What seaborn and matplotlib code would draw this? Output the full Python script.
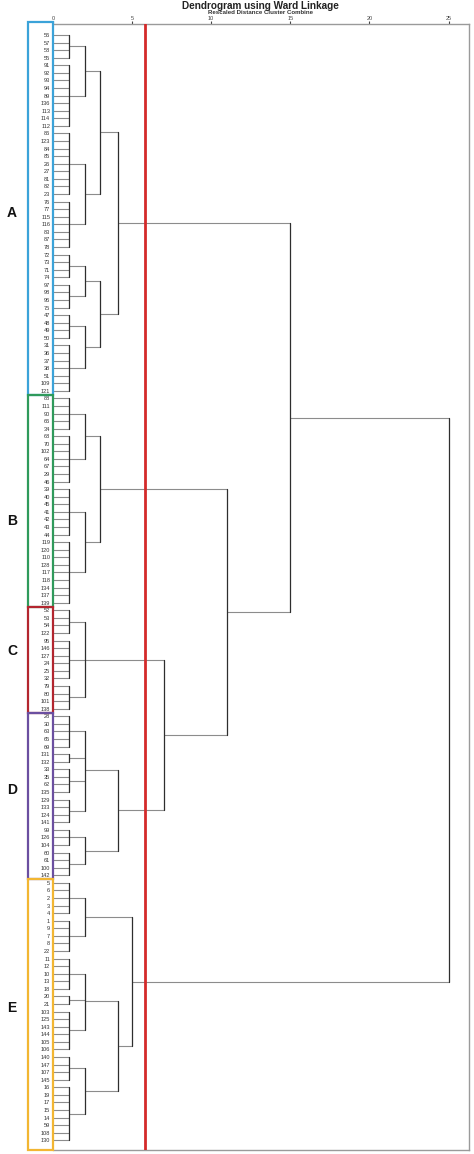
import numpy as np
import pandas as pd
import matplotlib
matplotlib.use("Agg")
import matplotlib.pyplot as plt
import seaborn as sns
from matplotlib.patches import Rectangle

# ---------------- data ----------------
# base groups of cases (each group fused at the base distance), top-to-bottom order
cluster_A = [[56, 57, 58, 55], [91, 92, 93, 94, 89, 136, 113, 114, 112],
             [86, 123, 84, 85, 26, 27, 81, 82, 23], [76, 77, 115, 116, 83, 87, 78],
             [72, 73, 71, 74], [97, 98, 96, 75], [47, 48, 49, 50],
             [31, 36, 37, 38, 51, 109, 121]]
cluster_B = [[88, 111, 90, 66, 34], [68, 70, 102, 64, 67, 29, 46],
             [39, 40, 45, 41, 42, 43, 44], [119, 120, 110, 128, 117, 118, 134, 137, 139]]
cluster_C = [[52, 53, 54, 122], [95, 146, 127, 24, 25, 32], [79, 80, 101, 138]]
cluster_D = [[28, 30, 63, 65, 69], [131, 132], [33, 35, 62, 135], [129, 133, 124, 141],
             [99, 126, 104], [60, 61, 100, 142]]
cluster_E = [[5, 6, 2, 3, 4], [1, 9, 7, 8, 22], [11, 12, 10, 13, 18], [20, 21],
             [103, 125, 143, 144, 105, 106], [140, 147, 107, 145],
             [16, 19, 17, 15, 14, 59, 108, 130]]
cluster_names = ["A", "B", "C", "D", "E"]
base_height = 1.0

merge_names = ["A01", "A23", "A0123", "A45", "A67", "A4567", "A",
               "B01", "B23", "B",
               "C",
               "D0123", "D45", "D",
               "CD", "BCD", "ABCD",
               "E01", "E234", "E56", "E2to6", "E",
               "root"]
merge_heights = [2.0, 2.0, 3.0, 2.0, 2.0, 3.0, 4.1,
                 2.0, 2.0, 3.0,
                 2.0,
                 2.0, 2.0, 4.1,
                 7.0, 11.0, 15.0,
                 2.0, 2.0, 2.0, 4.1, 5.0,
                 25.0]
merge_children = [["A0", "A1"], ["A2", "A3"], ["A01", "A23"], ["A4", "A5"], ["A6", "A7"],
                  ["A45", "A67"], ["A0123", "A4567"],
                  ["B0", "B1"], ["B2", "B3"], ["B01", "B23"],
                  ["C0", "C1", "C2"],
                  ["D0", "D1", "D2", "D3"], ["D4", "D5"], ["D0123", "D45"],
                  ["C", "D"], ["B", "CD"], ["A", "BCD"],
                  ["E0", "E1"], ["E2", "E3", "E4"], ["E5", "E6"], ["E234", "E56"],
                  ["E01", "E2to6"], ["ABCD", "E"]]

cut_distance = 5.8
x_ticks = [0, 5, 10, 15, 20, 25]
box_colors = ["#3ba3d9", "#2f9a5b", "#b3262f", "#6b4fa0", "#f2b632"]

# ---------------- build segments ----------------
clusters = [cluster_A, cluster_B, cluster_C, cluster_D, cluster_E]
leaf_labels = []
node_pos = {}
node_h = {}
segs = []   # (seg_id, kind, x, y)
sid = 0
row = 0
cluster_bounds = []
for cname, groups in zip(cluster_names, clusters):
    start = row
    for gi, g in enumerate(groups):
        rows = list(range(row, row + len(g)))
        leaf_labels.extend(str(v) for v in g)
        for r in rows:
            segs.append((sid, "h", 0.0, r)); segs.append((sid, "h", base_height, r)); sid += 1
        if len(rows) > 1:
            segs.append((sid, "v", base_height, rows[0])); segs.append((sid, "v", base_height, rows[-1])); sid += 1
        node_pos[f"{cname}{gi}"] = float(np.mean(rows))
        node_h[f"{cname}{gi}"] = base_height
        row += len(g)
    cluster_bounds.append((start - 0.5, row - 0.5))

for name, h, ch in zip(merge_names, merge_heights, merge_children):
    ys = [node_pos[c] for c in ch]
    for c in ch:
        segs.append((sid, "h", node_h[c], node_pos[c])); segs.append((sid, "h", h, node_pos[c])); sid += 1
    segs.append((sid, "v", h, min(ys))); segs.append((sid, "v", h, max(ys))); sid += 1
    node_pos[name] = float(np.mean(ys))
    node_h[name] = h

df = pd.DataFrame(segs, columns=["seg", "kind", "x", "y"])
n_leaves = len(leaf_labels)

# ---------------- plot ----------------
sns.set_theme(style="white")
plt.rcParams["font.family"] = ["Liberation Sans", "DejaVu Sans"]

W, H = 474, 1154
fig = plt.figure(figsize=(W / 100, H / 100), dpi=100)
ax_l, ax_r, ax_t, ax_b = 53, 469, 24, 1150
ax = fig.add_axes([ax_l / W, 1 - ax_b / H, (ax_r - ax_l) / W, (ax_b - ax_t) / H])

px_per_unit = 15.82
row_px = 7.57
first_row_px = 35

sns.lineplot(data=df[df.kind == "h"], x="x", y="y", units="seg", estimator=None,
             sort=False, color="#8c8c8c", lw=0.8, ax=ax, legend=False)
sns.lineplot(data=df[df.kind == "v"], x="x", y="y", units="seg", estimator=None,
             sort=False, color="#2e2e2e", lw=0.9, ax=ax, legend=False, orient="y")

ax.axvline(cut_distance, color="#d42a2a", lw=2.0, zorder=5)

ax.set_xlim(0, (ax_r - ax_l) / px_per_unit)
ax.set_ylim((ax_b - first_row_px) / row_px, (ax_t - first_row_px) / row_px)

ax.xaxis.tick_top()
ax.set_xticks(x_ticks)
ax.set_xticklabels([str(t) for t in x_ticks])
ax.tick_params(axis="x", top=True, bottom=False, length=2, width=0.8, pad=0.3,
               labelsize=4.0, colors="#444444")
ax.set_yticks(range(n_leaves))
ax.set_yticklabels(leaf_labels)
ax.tick_params(axis="y", left=False, length=0, pad=2, labelsize=4.1, colors="#333333")
ax.set_xlabel("")
ax.set_ylabel("")

for side in ["top", "right", "bottom"]:
    ax.spines[side].set_color("#9a9a9a")
    ax.spines[side].set_linewidth(1.0)
ax.spines["left"].set_visible(False)

# coloured cluster boxes and letters
box_x0 = (28 - ax_l) / px_per_unit
letter_rows = [23.5, 64.2, 81.4, 99.7, 128.5]
for i, (cname, (y0, y1)) in enumerate(zip(cluster_names, cluster_bounds)):
    if i == 0:
        y0 = (22 - first_row_px) / row_px
    if i == len(cluster_names) - 1:
        y1 = (ax_b - first_row_px) / row_px
    ax.add_patch(Rectangle((box_x0, y0), -box_x0, y1 - y0, fill=False,
                           edgecolor=box_colors[i], lw=1.6, clip_on=False, zorder=6))
    ax.text((12 - ax_l) / px_per_unit, letter_rows[i], cname, ha="center", va="center",
            fontsize=10, fontweight="bold", color="#111111", clip_on=False)

fig.text(260 / W, 1 - 6 / H, "Dendrogram using Ward Linkage", ha="center", va="center",
         fontsize=7.2, fontweight="bold", color="#222222")
fig.text(260 / W, 1 - 12.5 / H, "Rescaled Distance Cluster Combine", ha="center", va="center",
         fontsize=4.4, fontweight="bold", color="#333333")

fig.savefig("out.png", dpi=100)
